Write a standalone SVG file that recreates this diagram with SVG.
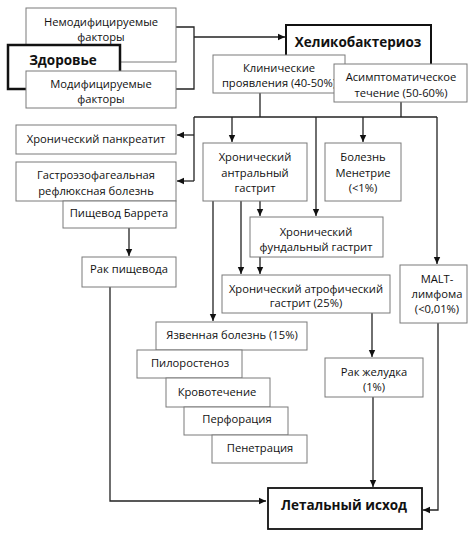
<svg xmlns="http://www.w3.org/2000/svg" width="474" height="537" viewBox="0 0 474 537">
<defs>
<marker id="ah" markerWidth="8" markerHeight="8" refX="7" refY="4" orient="auto" markerUnits="userSpaceOnUse">
<path d="M0,0.8 L7,4 L0,7.2 Z" fill="#111"/>
</marker>
<style>
.b{fill:#fff;stroke:#7a7a7a;stroke-width:1}
.tb{fill:#fff;stroke:#111;stroke-width:2.5}
.t{font-family:"Open Sans","Noto Sans",sans-serif;font-size:11.2px;fill:#111;text-anchor:middle}
.tbold{font-family:"Open Sans","Noto Sans",sans-serif;font-size:13.5px;font-weight:bold;fill:#111;text-anchor:middle}
.c{fill:none;stroke:#222;stroke-width:1.3}
</style>
</defs>
<rect width="474" height="537" fill="#fff"/>
<g id="connectors">
<path class="c" d="M176,27 H194 V89 H176"/>
<path class="c" d="M194,37 H285" marker-end="url(#ah)"/>
<path class="c" d="M260,93 V117"/>
<path class="c" d="M401,102 V117"/>
<path class="c" d="M194,117 H437"/>
<path class="c" d="M194,117 V181"/>
<path class="c" d="M194,135 H177" marker-end="url(#ah)"/>
<path class="c" d="M194,181 H177" marker-end="url(#ah)"/>
<path class="c" d="M232,117 V142" marker-end="url(#ah)"/>
<path class="c" d="M363,117 V142" marker-end="url(#ah)"/>
<path class="c" d="M316,117 V216" marker-end="url(#ah)"/>
<path class="c" d="M437,117 V264" marker-end="url(#ah)"/>
<path class="c" d="M260,201 V216" marker-end="url(#ah)"/>
<path class="c" d="M241,201 V274" marker-end="url(#ah)"/>
<path class="c" d="M260,257 V274" marker-end="url(#ah)"/>
<path class="c" d="M213,201 V321" marker-end="url(#ah)"/>
<path class="c" d="M372,313 V357" marker-end="url(#ah)"/>
<path class="c" d="M129,228 V256" marker-end="url(#ah)"/>
<path class="c" d="M110,287 V501 H266" marker-end="url(#ah)"/>
<path class="c" d="M373,397 V487" marker-end="url(#ah)"/>
<path class="c" d="M438,323 V510 H423" marker-end="url(#ah)"/>
</g>
<g id="nemod">
<rect class="b" x="26" y="8" width="150" height="54"/>
<text class="t" x="101" y="26">Немодифицируемые</text>
<text class="t" x="101" y="41">факторы</text>
</g>
<g id="zdorovie">
<rect class="tb" x="8" y="45" width="112" height="44"/>
<text class="tbold" x="63" y="65">Здоровье</text>
</g>
<g id="mod">
<rect class="b" x="26" y="71" width="150" height="37"/>
<text class="t" x="101" y="88">Модифицируемые</text>
<text class="t" x="101" y="103">факторы</text>
</g>
<g id="helico">
<rect class="tb" x="286" y="25" width="145" height="48" style="stroke-width:2"/>
<text class="tbold" x="358" y="47">Хеликобактериоз</text>
</g>
<g id="klin">
<rect class="b" x="213" y="55" width="132" height="38"/>
<text class="t" x="279" y="72">Клинические</text>
<text class="t" x="279" y="87">проявления (40-50%)</text>
</g>
<g id="asimpt">
<rect class="b" x="334" y="64" width="133" height="38"/>
<text class="t" x="401" y="81">Асимптоматическое</text>
<text class="t" x="401" y="97">течение (50-60%)</text>
</g>
<g id="pankreatit">
<rect class="b" x="16" y="125" width="160" height="29"/>
<text class="t" x="96" y="143">Хронический панкреатит</text>
</g>
<g id="gerb">
<rect class="b" x="16" y="162" width="160" height="39"/>
<text class="t" x="96" y="179">Гастроэзофагеальная</text>
<text class="t" x="96" y="195">рефлюксная болезнь</text>
</g>
<g id="barrett">
<rect class="b" x="63" y="201" width="113" height="27"/>
<text class="t" x="119" y="217">Пищевод Баррета</text>
</g>
<g id="rak-pish">
<rect class="b" x="82" y="257" width="94" height="30"/>
<text class="t" x="129" y="273">Рак пищевода</text>
</g>
<g id="antral">
<rect class="b" x="203" y="143" width="104" height="58"/>
<text class="t" x="255" y="161">Хронический</text>
<text class="t" x="255" y="177">антральный</text>
<text class="t" x="255" y="192">гастрит</text>
</g>
<g id="menetrie">
<rect class="b" x="325" y="143" width="76" height="58"/>
<text class="t" x="363" y="161">Болезнь</text>
<text class="t" x="363" y="177">Менетрие</text>
<text class="t" x="363" y="192">(&lt;1%)</text>
</g>
<g id="fundal">
<rect class="b" x="250" y="217" width="133" height="40"/>
<text class="t" x="316" y="236">Хронический</text>
<text class="t" x="316" y="251">фундальный гастрит</text>
</g>
<g id="atrof">
<rect class="b" x="222" y="275" width="168" height="38"/>
<text class="t" x="306" y="293">Хронический атрофический</text>
<text class="t" x="306" y="307">гастрит (25%)</text>
</g>
<g id="malt">
<rect class="b" x="400" y="265" width="67" height="58"/>
<text class="t" x="437" y="283">MALT-</text>
<text class="t" x="437" y="298">лимфома</text>
<text class="t" x="437" y="313">(&lt;0,01%)</text>
</g>
<g id="rak-zhel">
<rect class="b" x="325" y="358" width="98" height="39"/>
<text class="t" x="374" y="376">Рак желудка</text>
<text class="t" x="374" y="391">(1%)</text>
</g>
<g id="yazva">
<rect class="b" x="156" y="322" width="151" height="28"/>
<text class="t" x="232" y="339">Язвенная болезнь (15%)</text>
</g>
<g id="pilor">
<rect class="b" x="137" y="350" width="105" height="28"/>
<text class="t" x="190" y="367">Пилоростеноз</text>
</g>
<g id="krov">
<rect class="b" x="166" y="378" width="104" height="29"/>
<text class="t" x="217" y="396">Кровотечение</text>
</g>
<g id="perf">
<rect class="b" x="184" y="407" width="104" height="28"/>
<text class="t" x="237" y="423">Перфорация</text>
</g>
<g id="penetr">
<rect class="b" x="212" y="435" width="95" height="28"/>
<text class="t" x="260" y="452">Пенетрация</text>
</g>
<g id="letal">
<rect class="tb" x="268" y="488" width="154" height="41" style="stroke-width:1.8"/>
<text class="tbold" x="344" y="510">Летальный исход</text>
</g>
</svg>
